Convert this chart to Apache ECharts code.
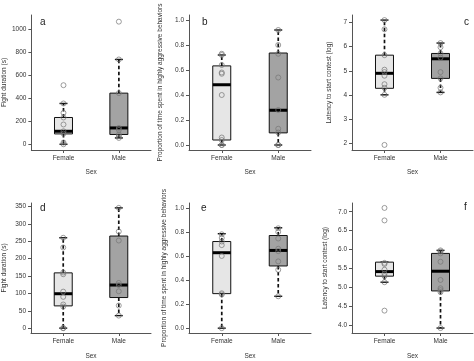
<!DOCTYPE html>
<html><head><meta charset="utf-8">
<script src="https://cdn.jsdelivr.net/npm/echarts@6/dist/echarts.min.js"></script>
<style>html,body{margin:0;padding:0;background:#fff}#c{width:474px;height:361px}</style>
</head><body><div id="c"></div>
<script>
// ---------- DATA ----------
var categories = ['Female', 'Male'];
var panelLetters = ['a', 'b', 'c', 'd', 'e', 'f'];
var yTitles = ['Fight duration (s)', 'Proportion of time spent in highly aggressive behaviors', 'Latency to start contest (log)',
               'Fight duration (s)', 'Proportion of time spent in highly aggressive behaviors', 'Latency to start contest (log)'];
var xTitle = 'Sex';

// box stats: [lower whisker, Q1, median, Q3, upper whisker]
var boxA_F = [0, 90, 113, 233, 355],        boxA_M = [55, 85, 142, 445, 738];
var boxB_F = [0, 0.04, 0.482, 0.633, 0.72], boxB_M = [0, 0.097, 0.278, 0.736, 0.92];
var boxC_F = [4.01, 4.28, 4.9, 5.65, 7.1],  boxC_M = [4.11, 4.69, 5.5, 5.72, 6.15];
var boxD_F = [0, 64, 99, 159, 260],         boxD_M = [36, 88, 124, 265, 346];
var boxE_F = [0, 0.287, 0.627, 0.72, 0.785], boxE_M = [0.265, 0.517, 0.646, 0.77, 0.834];
var boxF_F = [5.14, 5.30, 5.42, 5.67, 5.67], boxF_M = [3.93, 4.91, 5.43, 5.90, 5.98];

// individual observations
var ptsA_F = [514, 355, 273, 233, 172, 113, 93, 15, 0];
var ptsA_M = [1067, 738, 445, 142, 125, 85, 70, 55];
var ptsB_F = [0.73, 0.72, 0.64, 0.58, 0.57, 0.40, 0.06, 0.04, 0, 0];
var ptsB_M = [0.92, 0.80, 0.73, 0.54, 0.28, 0.13, 0.10, 0, 0];
var ptsC_F = [7.1, 6.72, 5.65, 5.05, 4.95, 4.8, 4.45, 4.3, 4.01, 1.94];
var ptsC_M = [6.15, 5.98, 5.72, 5.55, 4.95, 4.69, 4.3, 4.11];
var ptsD_F = [260, 232, 160, 155, 105, 90, 68, 62, 0, 0];
var ptsD_M = [346, 278, 252, 130, 124, 106, 65, 36];
var ptsE_F = [0.78, 0.75, 0.72, 0.69, 0.60, 0.29, 0.28, 0];
var ptsE_M = [0.83, 0.80, 0.745, 0.66, 0.64, 0.555, 0.485, 0.265];
var ptsF_F = [7.1, 6.77, 5.65, 5.62, 5.47, 5.36, 5.30, 5.14, 4.39];
var ptsF_M = [5.98, 5.95, 5.90, 5.68, 5.2, 4.98, 4.93, 4.88, 3.93];

// tick labels
var ticksA = [0, 200, 400, 600, 800, 1000];
var ticksB = [0, 0.2, 0.4, 0.6, 0.8, 1.0];
var ticksC = [2, 3, 4, 5, 6, 7];
var ticksD = [0, 50, 100, 150, 200, 250, 300, 350];
var ticksE = [0, 0.2, 0.4, 0.6, 0.8, 1.0];
var ticksF = [4.0, 4.5, 5.0, 5.5, 6.0, 6.5, 7.0];

// ---------- LAYOUT / STYLE ----------
var boxes = [[boxA_F, boxA_M], [boxB_F, boxB_M], [boxC_F, boxC_M], [boxD_F, boxD_M], [boxE_F, boxE_M], [boxF_F, boxF_M]];
var pts = [[ptsA_F, ptsA_M], [ptsB_F, ptsB_M], [ptsC_F, ptsC_M], [ptsD_F, ptsD_M], [ptsE_F, ptsE_M], [ptsF_F, ptsF_M]];
var ticks = [ticksA, ticksB, ticksC, ticksD, ticksE, ticksF];
var decimals = [0, 1, 0, 0, 1, 1];
var yRanges = [[-50, 1125], [-0.04, 1.04], [1.73, 7.31], [-14, 360], [-0.04, 1.04], [3.80, 7.23]];
var grids = [
  {left: 30, top: 15, width: 121, height: 135},
  {left: 189, top: 15, width: 122, height: 135},
  {left: 352, top: 15, width: 121, height: 135},
  {left: 30, top: 203, width: 121, height: 132},
  {left: 189, top: 203, width: 122, height: 132},
  {left: 352, top: 203, width: 121, height: 132}
];
var yNameGaps = [23, 25.5, 19.5, 23, 21, 23.5];
var xNameGaps = [19, 19, 19, 20, 20, 20];
var letterPos = [[43, 23], [205, 23], [467, 23], [43, 209], [204, 209], [467, 208]];
var fills = ['#e6e6e6', '#a3a3a3'];
var FONT = 'Liberation Sans, Arial, sans-serif';
var TXT = '#333';
var AX = '#555';

var option = {animation: false, backgroundColor: '#fff', grid: [], xAxis: [], yAxis: [], series: [], graphic: []};

for (var i = 0; i < 6; i++) {
  option.grid.push(grids[i]);
  option.xAxis.push({
    type: 'value', gridIndex: i, min: 0.42, max: 2.58,
    name: xTitle, nameLocation: 'middle', nameGap: xNameGaps[i],
    nameTextStyle: {fontFamily: FONT, fontSize: 6.5, color: TXT},
    axisLine: {show: true, onZero: false, lineStyle: {color: AX, width: 1}},
    axisTick: {show: true, customValues: [1, 2], length: 3, lineStyle: {color: AX}},
    axisLabel: {customValues: [1, 2], margin: 5, fontFamily: FONT, fontSize: 6.5, color: TXT,
      formatter: function (v) { return categories[Math.round(v) - 1]; }},
    splitLine: {show: false}
  });
  (function (dec) {
    option.yAxis.push({
      type: 'value', gridIndex: i, min: yRanges[i][0], max: yRanges[i][1],
      name: yTitles[i], nameLocation: 'middle', nameGap: yNameGaps[i],
      nameTextStyle: {fontFamily: FONT, fontSize: 6.5, color: TXT},
      axisLine: {show: true, onZero: false, lineStyle: {color: AX, width: 1}},
      axisTick: {show: true, customValues: ticks[i], length: 3, lineStyle: {color: AX}},
      axisLabel: {customValues: ticks[i], margin: 5, fontFamily: FONT, fontSize: 6.5, color: TXT,
        formatter: function (v) { return v.toFixed(dec); }},
      splitLine: {show: false}
    });
  })(decimals[i]);

  var boxData = [];
  for (var k = 0; k < 2; k++) boxData.push([k + 1].concat(boxes[i][k]));
  option.series.push({
    type: 'custom', xAxisIndex: i, yAxisIndex: i, z: 2,
    data: boxData,
    renderItem: function (params, api) {
      var x = api.value(0);
      var lo = api.coord([x, api.value(1)]);
      var q1 = api.coord([x, api.value(2)]);
      var md = api.coord([x, api.value(3)]);
      var q3 = api.coord([x, api.value(4)]);
      var hi = api.coord([x, api.value(5)]);
      var cx = lo[0], hw = 9, cw = 4;
      var dash = {stroke: '#111', lineWidth: 1.7, lineDash: [3.5, 2.5]};
      var cap = {stroke: '#111', lineWidth: 1.4};
      return {type: 'group', children: [
        {type: 'line', shape: {x1: cx, y1: q1[1], x2: cx, y2: lo[1]}, style: dash},
        {type: 'line', shape: {x1: cx, y1: q3[1], x2: cx, y2: hi[1]}, style: dash},
        {type: 'line', shape: {x1: cx - cw, y1: lo[1], x2: cx + cw, y2: lo[1]}, style: cap},
        {type: 'line', shape: {x1: cx - cw, y1: hi[1], x2: cx + cw, y2: hi[1]}, style: cap},
        {type: 'rect', shape: {x: cx - hw, y: q3[1], width: 2 * hw, height: q1[1] - q3[1]},
          style: {fill: fills[Math.round(x) - 1], stroke: '#111', lineWidth: 1}},
        {type: 'line', shape: {x1: cx - hw, y1: md[1], x2: cx + hw, y2: md[1]}, style: {stroke: '#000', lineWidth: 3}}
      ]};
    }
  });

  var sData = [];
  for (var k2 = 0; k2 < 2; k2++) {
    pts[i][k2].forEach(function (v) { sData.push([k2 + 1, v]); });
  }
  option.series.push({
    type: 'scatter', xAxisIndex: i, yAxisIndex: i, z: 3,
    symbol: 'circle', symbolSize: 5,
    itemStyle: {color: 'rgba(0,0,0,0)', borderColor: '#777', borderWidth: 0.9},
    emphasis: {disabled: true},
    data: sData
  });

  option.graphic.push({
    type: 'text', left: letterPos[i][0] - 3, top: letterPos[i][1] - 6,
    style: {text: panelLetters[i], font: '10px ' + FONT, fill: '#222'}
  });
}

var chart = echarts.init(document.getElementById('c'), null, {renderer: 'canvas'});
chart.setOption(option);
</script>
</body></html>
